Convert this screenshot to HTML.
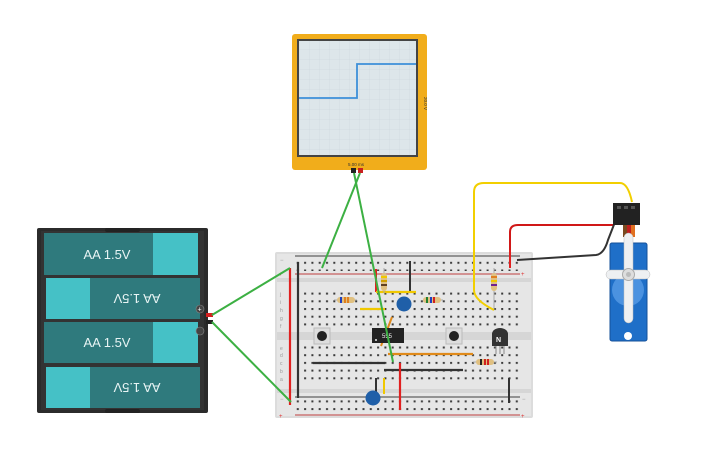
<!DOCTYPE html>
<html><head><meta charset="utf-8"><style>
html,body{margin:0;padding:0;background:#fff;width:725px;height:453px;overflow:hidden}
svg{display:block;font-family:"Liberation Sans",sans-serif}
</style></head><body>
<svg width="725" height="453" viewBox="0 0 725 453" xmlns="http://www.w3.org/2000/svg">
<defs>
<pattern id="h" x="303.5" y="0" width="7.3" height="7.7" patternUnits="userSpaceOnUse"><rect x="0.6" y="0" width="2" height="2" fill="#3a3a3a"/></pattern>
<pattern id="g" x="0" y="0" width="10" height="10" patternUnits="userSpaceOnUse"><path d="M10 0V10H0" fill="none" stroke="#c9d3d8" stroke-width="0.5"/></pattern>
</defs>

<!-- Battery pack -->
<rect x="37" y="228" width="171" height="185" rx="2" fill="#2b2b2b"/>
<rect x="41" y="231" width="163" height="179" fill="#333"/>
<rect x="105" y="228" width="35" height="4" rx="2" fill="#222"/>
<rect x="105" y="409" width="35" height="4" rx="2" fill="#222"/>
<g font-size="13" fill="#e8f4f4">
<rect x="44" y="233" width="154" height="42" fill="#2f7a7d"/><rect x="153" y="233" width="45" height="42" fill="#45c1c6"/>
<text x="107" y="259" text-anchor="middle">AA 1.5V</text>
<rect x="46" y="278" width="154" height="41" fill="#2f7a7d"/><rect x="46" y="278" width="44" height="41" fill="#45c1c6"/>
<text x="137" y="303" text-anchor="middle" transform="rotate(180 137 298.5)">AA 1.5V</text>
<rect x="44" y="322" width="154" height="41" fill="#2f7a7d"/><rect x="153" y="322" width="45" height="41" fill="#45c1c6"/>
<text x="107" y="347" text-anchor="middle">AA 1.5V</text>
<rect x="46" y="367" width="154" height="41" fill="#2f7a7d"/><rect x="46" y="367" width="44" height="41" fill="#45c1c6"/>
<text x="137" y="392" text-anchor="middle" transform="rotate(180 137 387.5)">AA 1.5V</text>
</g>
<circle cx="200" cy="309" r="4" fill="#444" stroke="#888" stroke-width="0.6"/>
<text x="197.5" y="311.5" font-size="7" fill="#fff">+</text>
<circle cx="200" cy="331" r="4" fill="#444" stroke="#888" stroke-width="0.6"/>
<rect x="206" y="313" width="7" height="4" fill="#d42020"/>
<rect x="206" y="320" width="7" height="4" fill="#222"/>

<!-- Oscilloscope -->
<rect x="292" y="34" width="135" height="136" rx="3" fill="#f1ad1b"/>
<rect x="297" y="39" width="121" height="118" fill="#444"/>
<rect x="299" y="41" width="117" height="114" fill="#dde6ea"/>
<rect x="299" y="41" width="117" height="114" fill="url(#g)"/>
<polyline points="299,98 357,98 357,64 416,64" fill="none" stroke="#3d8fd9" stroke-width="1.8"/>
<text x="348" y="166" font-size="4.5" fill="#333">5.00 ms</text>
<text x="424" y="97" font-size="4.5" fill="#333" transform="rotate(90 424 97)">20.0 V</text>
<rect x="351" y="168" width="5" height="5" fill="#222"/>
<rect x="358" y="168" width="5" height="5" fill="#c82020"/>

<!-- Breadboard -->
<rect x="275" y="252" width="258" height="166" rx="2" fill="#dcdcdc"/>
<rect x="277" y="254" width="254" height="162" fill="#e6e6e6"/>
<rect x="277" y="278" width="254" height="4" fill="#d6d6d6"/>
<rect x="277" y="332" width="254" height="8" fill="#d6d6d6"/>
<rect x="277" y="389" width="254" height="4" fill="#d6d6d6"/>
<line x1="295" y1="256" x2="520" y2="256" stroke="#777" stroke-width="1.5"/>
<line x1="295" y1="274" x2="520" y2="274" stroke="#c77" stroke-width="1.5"/>
<line x1="295" y1="397" x2="520" y2="397" stroke="#777" stroke-width="1.5"/>
<line x1="295" y1="415" x2="520" y2="415" stroke="#c77" stroke-width="1.5"/>
<g fill="url(#h)">
<rect x="296" y="260" width="226" height="11"/>
<rect x="296" y="400" width="226" height="11"/>
<rect x="303" y="292" width="218" height="36"/>
<rect x="303" y="345" width="218" height="36"/>
</g>
<g font-size="6" fill="#999">
<text x="280" y="262">−</text><text x="279" y="276" fill="#d33">+</text>
<text x="522" y="262">−</text><text x="521" y="276" fill="#d33">+</text>
<text x="280" y="401">−</text><text x="279" y="418" fill="#d33">+</text>
<text x="522" y="401">−</text><text x="521" y="418" fill="#d33">+</text>
<text x="280" y="296" font-size="5">j</text><text x="280" y="304" font-size="5">i</text><text x="280" y="312" font-size="5">h</text><text x="280" y="320" font-size="5">g</text><text x="280" y="328" font-size="5">f</text>
<text x="280" y="350" font-size="5">e</text><text x="280" y="357" font-size="5">d</text><text x="280" y="365" font-size="5">c</text><text x="280" y="373" font-size="5">b</text><text x="280" y="381" font-size="5">a</text>
</g>

<!-- rails wires -->
<line x1="290" y1="268" x2="290" y2="405" stroke="#e02020" stroke-width="2.2"/>
<line x1="298" y1="262" x2="298" y2="398" stroke="#333" stroke-width="2.2"/>
<line x1="410" y1="261" x2="410" y2="293" stroke="#333" stroke-width="2"/>
<line x1="376" y1="269" x2="376" y2="292" stroke="#e02020" stroke-width="2"/>
<line x1="376" y1="292" x2="416" y2="292" stroke="#f0c800" stroke-width="2.2"/>
<line x1="360" y1="309" x2="385" y2="309" stroke="#f0c800" stroke-width="2.2"/>
<line x1="313" y1="363" x2="385" y2="363" stroke="#333" stroke-width="2.2"/>
<line x1="384" y1="370" x2="463" y2="370" stroke="#333" stroke-width="2.2"/>
<line x1="388" y1="354" x2="473" y2="354" stroke="#e08a1a" stroke-width="2.2"/>
<line x1="392" y1="317" x2="381" y2="346" stroke="#e08a1a" stroke-width="2"/>
<line x1="400" y1="363" x2="400" y2="410" stroke="#e02020" stroke-width="2.2"/>
<line x1="376" y1="378" x2="376" y2="400" stroke="#333" stroke-width="2"/>
<line x1="384" y1="378" x2="384" y2="394" stroke="#f0c800" stroke-width="2"/>
<line x1="509" y1="378" x2="509" y2="403" stroke="#333" stroke-width="2"/>
<line x1="510" y1="268" x2="510" y2="250" stroke="#e02020" stroke-width="2"/>

<!-- resistors -->
<g>
<line x1="334" y1="300" x2="357" y2="300" stroke="#aaa" stroke-width="1"/>
<rect x="337" y="297" width="18" height="6" rx="3" fill="#e0c080"/>
<rect x="340" y="297" width="2" height="6" fill="#2040c0"/><rect x="344" y="297" width="2" height="6" fill="#e08020"/><rect x="347" y="297" width="2" height="6" fill="#e08020"/>
<line x1="425" y1="300" x2="443" y2="300" stroke="#aaa" stroke-width="1"/>
<rect x="423" y="297" width="18" height="6" rx="3" fill="#e0c080"/>
<rect x="426" y="297" width="2" height="6" fill="#208030"/><rect x="430" y="297" width="2" height="6" fill="#2040c0"/><rect x="433" y="297" width="2" height="6" fill="#d02020"/>
<line x1="384" y1="268" x2="384" y2="293" stroke="#aaa" stroke-width="1"/>
<rect x="381" y="273" width="6" height="18" rx="3" fill="#e0c080"/>
<rect x="381" y="276" width="6" height="2" fill="#f0c800"/><rect x="381" y="280" width="6" height="2" fill="#d0a000"/><rect x="381" y="284" width="6" height="2" fill="#604020"/>
<line x1="494" y1="268" x2="494" y2="310" stroke="#aaa" stroke-width="1"/>
<rect x="491" y="273" width="6" height="18" rx="3" fill="#e0c080"/>
<rect x="491" y="276" width="6" height="2" fill="#e08020"/><rect x="491" y="280" width="6" height="2" fill="#f0c800"/><rect x="491" y="284" width="6" height="2" fill="#702090"/>
<line x1="473" y1="362" x2="497" y2="362" stroke="#aaa" stroke-width="1"/>
<rect x="476" y="359" width="18" height="6" rx="3" fill="#e0c080"/>
<rect x="480" y="359" width="2" height="6" fill="#222"/><rect x="484" y="359" width="2" height="6" fill="#d02020"/><rect x="487" y="359" width="2" height="6" fill="#d02020"/>
</g>

<!-- capacitors -->
<circle cx="404" cy="304" r="7.5" fill="#1f5fa8"/>
<circle cx="373" cy="398" r="7.5" fill="#1f5fa8"/>

<!-- pushbuttons -->
<rect x="314" y="328" width="16" height="16" fill="#ddd" stroke="#bbb"/><circle cx="322" cy="336" r="5" fill="#222"/>
<rect x="446" y="328" width="16" height="16" fill="#ddd" stroke="#bbb"/><circle cx="454" cy="336" r="5" fill="#222"/>

<!-- 555 -->
<rect x="372" y="328" width="32" height="15" fill="#222"/>
<text x="382" y="338" font-size="6" fill="#eee">555</text>
<circle cx="376" cy="340" r="1" fill="#eee"/>

<!-- transistor -->
<path d="M492 346 V334 a8 6 0 0 1 16 0 V346 Z" fill="#333"/>
<text x="496" y="342" font-size="7" fill="#fff" font-weight="bold">N</text>
<line x1="496" y1="346" x2="496" y2="354" stroke="#888"/><line x1="500" y1="346" x2="500" y2="354" stroke="#888"/><line x1="504" y1="346" x2="504" y2="354" stroke="#888"/>

<!-- green wires -->
<g stroke="#3cb043" stroke-width="2" fill="none">
<line x1="212" y1="315" x2="290" y2="268"/>
<line x1="212" y1="322" x2="291" y2="402"/>
<line x1="360" y1="173" x2="322" y2="268"/>
<line x1="354" y1="173" x2="393" y2="362"/>
</g>

<!-- servo wires -->
<path d="M494 310 Q474 300 474 290 V192 Q474 183 484 183 H620 Q628 183 632 202" fill="none" stroke="#f2cf00" stroke-width="2"/>
<path d="M510 250 V232 Q510 225 518 225 H614" fill="none" stroke="#d01818" stroke-width="2"/>
<path d="M517 260 L596 255 Q604 254 608 240 L615 222" fill="none" stroke="#333" stroke-width="2"/>

<!-- Servo -->
<rect x="610" y="243" width="37" height="98" rx="2" fill="#1f6fc8" stroke="#15509a"/>
<circle cx="628" cy="290" r="16" fill="#4b92e0"/>
<circle cx="628" cy="336" r="4" fill="#fff"/>
<rect x="623" y="225" width="4" height="12" fill="#7a4a20"/><rect x="627" y="225" width="4" height="12" fill="#c02020"/><rect x="631" y="225" width="4" height="12" fill="#e07020"/>
<rect x="613" y="203" width="27" height="22" fill="#222"/>
<rect x="617" y="206" width="4" height="3" fill="#555"/><rect x="624" y="206" width="4" height="3" fill="#555"/><rect x="631" y="206" width="4" height="3" fill="#555"/>
<rect x="624" y="233" width="9" height="90" rx="4.5" fill="#eef0f2" stroke="#bbb" stroke-width="0.5"/>
<rect x="606" y="270" width="44" height="9" rx="4.5" fill="#eef0f2" stroke="#bbb" stroke-width="0.5"/>
<circle cx="628.5" cy="274.5" r="6" fill="#ddd" stroke="#aaa"/>
<circle cx="628.5" cy="274.5" r="2.5" fill="#bbb"/>
</svg>
</body></html>
